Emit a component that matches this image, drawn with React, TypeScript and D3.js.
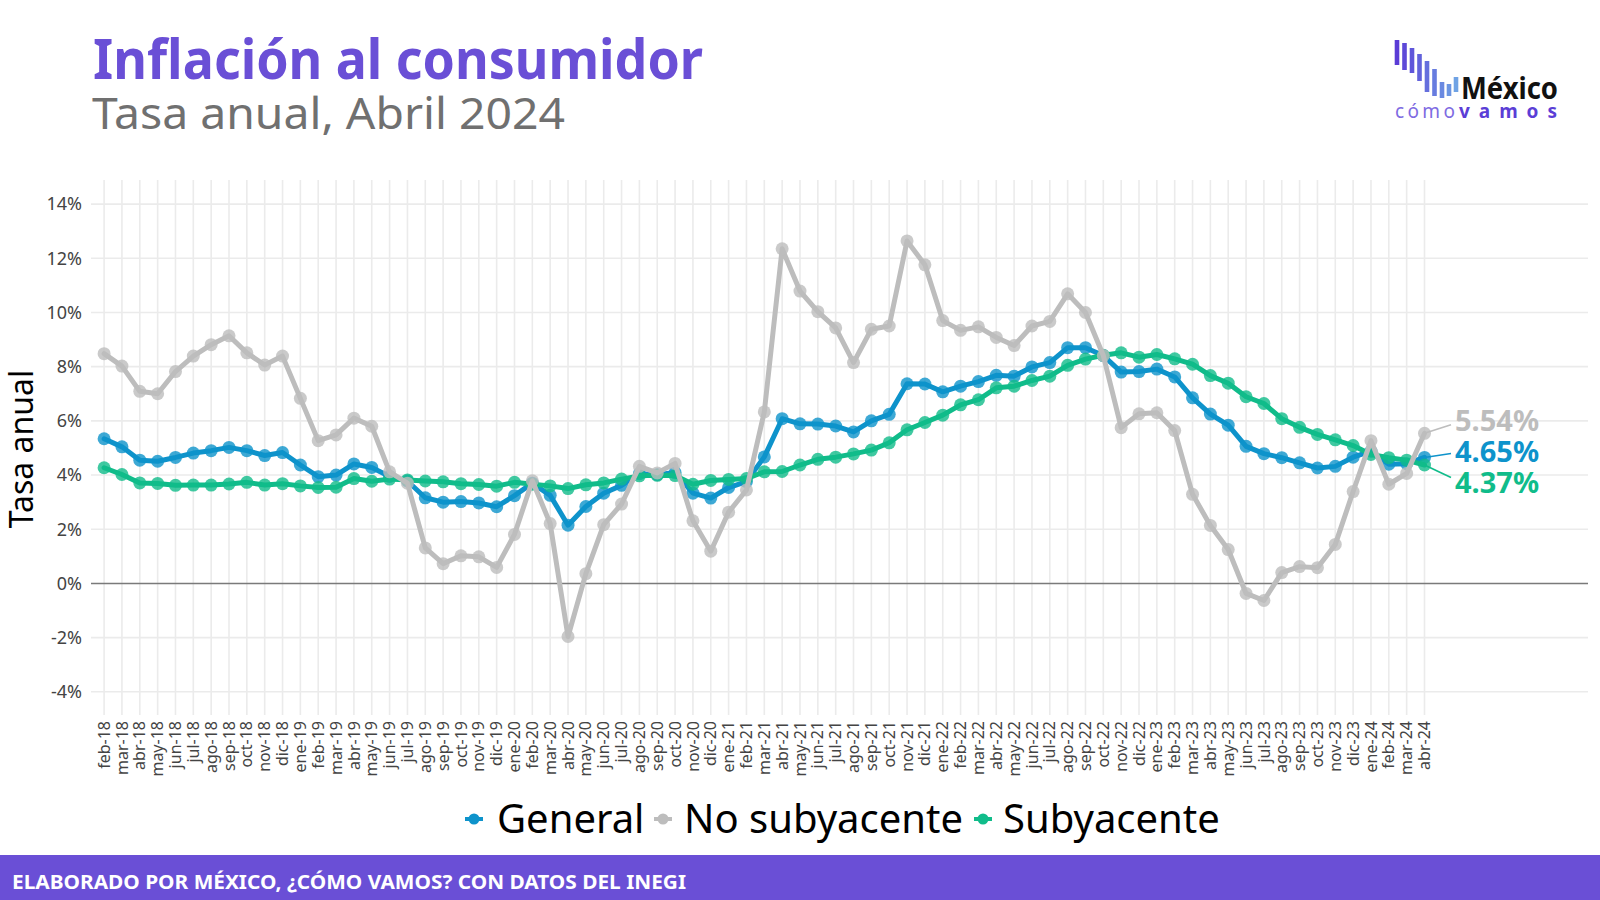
import * as d3 from "d3";

// Meses (eje x)
const MONTHS = [
  "feb-18", "mar-18", "abr-18", "may-18", "jun-18", "jul-18", "ago-18", "sep-18", "oct-18", "nov-18", "dic-18",
  "ene-19", "feb-19", "mar-19", "abr-19", "may-19", "jun-19", "jul-19", "ago-19", "sep-19", "oct-19", "nov-19", "dic-19",
  "ene-20", "feb-20", "mar-20", "abr-20", "may-20", "jun-20", "jul-20", "ago-20", "sep-20", "oct-20", "nov-20", "dic-20",
  "ene-21", "feb-21", "mar-21", "abr-21", "may-21", "jun-21", "jul-21", "ago-21", "sep-21", "oct-21", "nov-21", "dic-21",
  "ene-22", "feb-22", "mar-22", "abr-22", "may-22", "jun-22", "jul-22", "ago-22", "sep-22", "oct-22", "nov-22", "dic-22",
  "ene-23", "feb-23", "mar-23", "abr-23", "may-23", "jun-23", "jul-23", "ago-23", "sep-23", "oct-23", "nov-23", "dic-23",
  "ene-24", "feb-24", "mar-24", "abr-24",
];

const GENERAL = [
  5.34, 5.04, 4.55, 4.51, 4.65, 4.81, 4.9, 5.02, 4.9, 4.72, 4.83,
  4.37, 3.94, 4.0, 4.41, 4.28, 3.95, 3.78, 3.16, 3.0, 3.02, 2.97, 2.83,
  3.24, 3.7, 3.25, 2.15, 2.84, 3.33, 3.62, 4.05, 4.01, 4.09, 3.33, 3.15,
  3.54, 3.76, 4.67, 6.08, 5.89, 5.88, 5.81, 5.59, 6.0, 6.24, 7.37, 7.36,
  7.07, 7.28, 7.45, 7.68, 7.65, 7.99, 8.15, 8.7, 8.7, 8.41, 7.8, 7.82,
  7.91, 7.62, 6.85, 6.25, 5.84, 5.06, 4.79, 4.64, 4.45, 4.26, 4.32, 4.66,
  4.88, 4.4, 4.42, 4.65,
];

const NO_SUBYACENTE = [
  8.48, 8.02, 7.09, 7.0, 7.82, 8.39, 8.81, 9.14, 8.51, 8.06, 8.39,
  6.83, 5.27, 5.48, 6.1, 5.8, 4.12, 3.7, 1.31, 0.73, 1.02, 0.98, 0.59,
  1.81, 3.79, 2.21, -1.96, 0.36, 2.17, 2.93, 4.32, 4.08, 4.43, 2.31, 1.19,
  2.63, 3.45, 6.33, 12.35, 10.79, 10.03, 9.43, 8.15, 9.38, 9.5, 12.64, 11.76,
  9.7, 9.34, 9.47, 9.08, 8.78, 9.5, 9.67, 10.69, 10.0, 8.41, 5.75, 6.26,
  6.3, 5.64, 3.29, 2.14, 1.25, -0.37, -0.63, 0.4, 0.62, 0.58, 1.44, 3.39,
  5.27, 3.66, 4.06, 5.54,
];

const SUBYACENTE = [
  4.27, 4.02, 3.71, 3.69, 3.62, 3.63, 3.63, 3.67, 3.73, 3.63, 3.68,
  3.6, 3.54, 3.55, 3.87, 3.77, 3.85, 3.82, 3.78, 3.75, 3.68, 3.65, 3.59,
  3.73, 3.66, 3.6, 3.5, 3.64, 3.71, 3.85, 3.97, 3.99, 3.98, 3.66, 3.8,
  3.84, 3.87, 4.12, 4.13, 4.37, 4.58, 4.66, 4.78, 4.92, 5.19, 5.67, 5.94,
  6.21, 6.59, 6.78, 7.22, 7.28, 7.49, 7.65, 8.05, 8.28, 8.42, 8.51, 8.35,
  8.45, 8.29, 8.09, 7.67, 7.39, 6.89, 6.64, 6.08, 5.76, 5.5, 5.3, 5.09,
  4.76, 4.64, 4.55, 4.37,
];

const Y_TICKS = [-4, -2, 0, 2, 4, 6, 8, 10, 12, 14];

const SERIES = [
  { name: "General", values: GENERAL, color: "#0E93CB" },
  { name: "No subyacente", values: NO_SUBYACENTE, color: "#BDBDBD" },
  { name: "Subyacente", values: SUBYACENTE, color: "#10BC8A" },
];
// draw order: general, subyacente, no subyacente on top
const DRAW_ORDER = [0, 2, 1];

const FONT = "'Noto Sans', 'Open Sans', sans-serif";
const PURPLE = "#6A4FD6";

const W = 1600;
const H = 900;
const panel = { left: 91, right: 1588, top: 180, bottom: 715 };

const LOGO_BARS = [
  [1397, 40, 65], [1404.5, 43, 70], [1412, 48, 73], [1419.5, 54, 81], [1427, 61, 92],
  [1434.5, 69, 96], [1442, 82, 98], [1449, 84, 96], [1456, 77, 92],
];

function Logo() {
  const col = d3.interpolateRgb("#5A3CD6", "#6FA2E4");
  return (
    <g>
      {LOGO_BARS.map(([x, y0, y1], i) => (
        <rect key={i} x={x - 2.3} y={y0} width={4.6} height={y1 - y0} fill={col(i / (LOGO_BARS.length - 1))} />
      ))}
      <text x={1461} y={99} fontFamily={FONT} fontWeight={700} fontSize={31} fill="#111"
        textLength={97} lengthAdjust="spacingAndGlyphs">México</text>
      <text x={1395} y={118} fontFamily={FONT} fontSize={19} fill="#7E6BE2"
        textLength={60} lengthAdjust="spacing">cómo</text>
      <text x={1459} y={118} fontFamily={FONT} fontWeight={700} fontSize={19} fill="#5B3ED6"
        textLength={98} lengthAdjust="spacing">vamos</text>
    </g>
  );
}

export default function App() {
  const x = d3.scalePoint<string>().domain(MONTHS).range([104.1, 1424.5]);
  const y = d3.scaleLinear().domain([-4, 14]).range([691.8, 204.1]);

  const line = d3.line<number>()
    .x((_, i) => x(MONTHS[i]) as number)
    .y(d => y(d));

  // end labels, spread vertically around the mean of the last points
  const lastX = x(MONTHS[MONTHS.length - 1]) as number;
  const ends = SERIES.map(s => ({ ...s, last: s.values[s.values.length - 1] }))
    .sort((a, b) => b.last - a.last);
  const meanY = d3.mean(ends, e => y(e.last)) as number;
  const gap = 31;

  const legendItems = [
    { key: 474, text: 497 },
    { key: 663, text: 684 },
    { key: 983, text: 1003 },
  ];

  return (
    <svg width={W} height={H} viewBox={`0 0 ${W} ${H}`}
      style={{ position: "absolute", left: 0, top: 0, background: "#fff" }}>
      <rect width={W} height={H} fill="#fff" />

      {/* titles */}
      <text x={93} y={78.5} fontFamily={FONT} fontWeight={700} fontSize={56} fill={PURPLE}
        textLength={610} lengthAdjust="spacingAndGlyphs">Inflación al consumidor</text>
      <text x={92} y={128.5} fontFamily={FONT} fontSize={44} fill="#707070"
        textLength={473} lengthAdjust="spacingAndGlyphs">Tasa anual, Abril 2024</text>

      <Logo />

      {/* grid */}
      {MONTHS.map(m => (
        <line key={m} x1={x(m)} x2={x(m)} y1={panel.top} y2={panel.bottom} stroke="#EBEBEB" strokeWidth={1.6} />
      ))}
      {Y_TICKS.map(t => (
        <line key={t} x1={panel.left} x2={panel.right} y1={y(t)} y2={y(t)}
          stroke={t === 0 ? "#7A7A7A" : "#EBEBEB"} strokeWidth={t === 0 ? 1.5 : 1.6} />
      ))}

      {/* y axis */}
      {Y_TICKS.map(t => (
        <text key={t} x={82} y={y(t)} dy="0.35em" textAnchor="end" fontFamily={FONT} fontSize={18} fill="#444">
          {`${t}%`}
        </text>
      ))}
      <text transform={`translate(33,449) rotate(-90)`} textAnchor="middle" fontFamily={FONT} fontSize={32} fill="#000">
        Tasa anual
      </text>

      {/* x axis */}
      {MONTHS.map(m => (
        <text key={m} transform={`translate(${x(m)},721) rotate(-90)`} dy="0.35em" textAnchor="end"
          fontFamily={FONT} fontSize={16} fill="#444">{m}</text>
      ))}

      {/* series */}
      {DRAW_ORDER.map(si => {
        const s = SERIES[si];
        return (
          <g key={s.name}>
            <path d={line(s.values) as string} fill="none" stroke={s.color} strokeWidth={5}
              strokeLinejoin="round" strokeLinecap="round" />
            {s.values.map((v, i) => (
              <circle key={i} cx={x(MONTHS[i])} cy={y(v)} r={6.5} fill={s.color} fillOpacity={0.8} />
            ))}
          </g>
        );
      })}

      {/* end labels */}
      {ends.map((e, i) => {
        const cy = meanY + (i - 1) * gap;
        const py = y(e.last);
        return (
          <g key={e.name}>
            <line x1={lastX} y1={py} x2={1451} y2={cy + (py - cy) * 0.3} stroke={e.color} strokeWidth={1.6} />
            <text x={1455} y={cy} dy="0.36em" fontFamily={FONT} fontWeight={700} fontSize={29} fill={e.color}>
              {`${e.last.toFixed(2)}%`}
            </text>
          </g>
        );
      })}

      {/* legend */}
      {SERIES.map((s, i) => (
        <g key={s.name}>
          <line x1={legendItems[i].key - 9} x2={legendItems[i].key + 9} y1={819} y2={819} stroke={s.color} strokeWidth={4} />
          <circle cx={legendItems[i].key} cy={819} r={5.5} fill={s.color} />
          <text x={legendItems[i].text} y={833} fontFamily={FONT} fontSize={40} fill="#000">{s.name}</text>
        </g>
      ))}

      {/* footer */}
      <rect x={0} y={855} width={W} height={H - 855} fill={PURPLE} />
      <text x={12} y={888.5} fontFamily={FONT} fontWeight={700} fontSize={20} fill="#fff"
        textLength={674} lengthAdjust="spacingAndGlyphs">ELABORADO POR MÉXICO, ¿CÓMO VAMOS? CON DATOS DEL INEGI</text>
    </svg>
  );
}
